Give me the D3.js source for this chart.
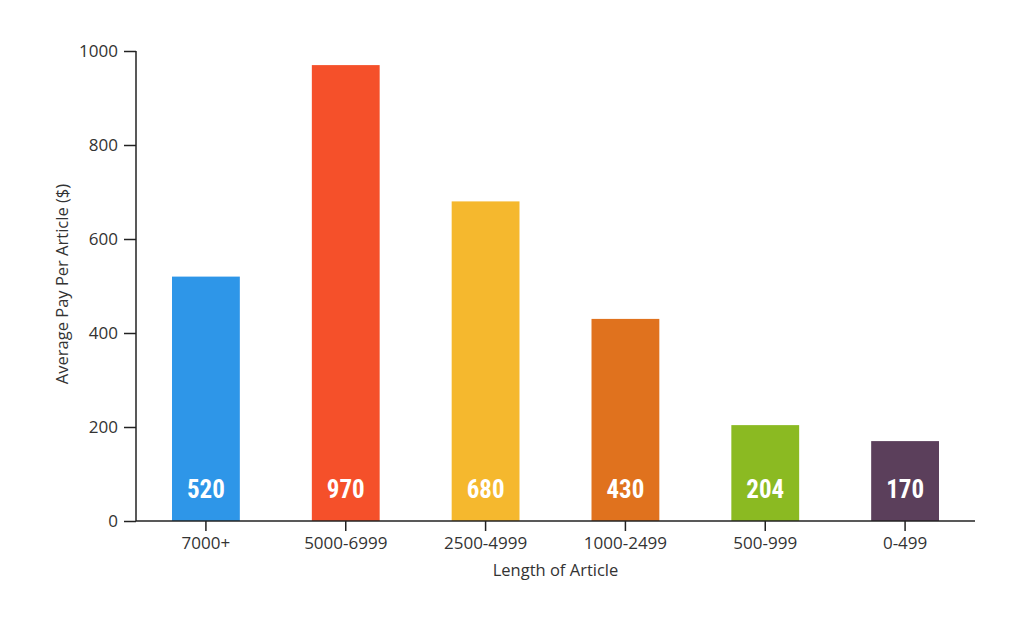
<!DOCTYPE html>
<html>
<head>
<meta charset="utf-8">
<script src="https://cdn.jsdelivr.net/npm/d3@7"></script>
<style>
  body { margin: 0; background: #fff; }
  .axis path, .axis line { stroke: #222; stroke-width: 1.5; }
  .val { font-stretch: condensed; }
</style>
</head>
<body>
<div id="chart"></div>
<script>
// Chart data
const categories = ["7000+", "5000-6999", "2500-4999", "1000-2499", "500-999", "0-499"];
const values = [520, 970, 680, 430, 204, 170];
const colors = ["#2E96E8", "#F5502A", "#F5B82E", "#E0721E", "#8BBA22", "#5B3F5B"];
const yTicks = [0, 200, 400, 600, 800, 1000];

const width = 1024;
const height = 627;
const margin = { top: 51, right: 49, bottom: 106, left: 136 };
const innerW = width - margin.left - margin.right;
const innerH = height - margin.top - margin.bottom;

const svg = d3.select("#chart")
  .append("svg")
  .attr("width", width)
  .attr("height", height);

const g = svg.append("g").attr("transform", `translate(${margin.left},${margin.top})`);

const x = d3.scaleBand()
  .domain(categories)
  .range([0, innerW])
  .paddingInner(0.515)
  .paddingOuter(0.2575);

const y = d3.scaleLinear()
  .domain([0, 1000])
  .range([innerH, 0]);

// Bars
g.selectAll(".bar")
  .data(categories)
  .join("rect")
  .attr("class", "bar")
  .attr("x", d => x(d))
  .attr("y", (d, i) => y(values[i]))
  .attr("width", x.bandwidth())
  .attr("height", (d, i) => innerH - y(values[i]))
  .attr("fill", (d, i) => colors[i]);

// Value labels inside bars
g.selectAll(".val")
  .data(categories)
  .join("text")
  .attr("class", "val")
  .attr("x", d => x(d) + x.bandwidth() / 2)
  .attr("y", y(0) - 23)
  .attr("text-anchor", "middle")
  .attr("fill", "#fff")
  .style("font-family", "'Roboto Condensed', 'DejaVu Sans', sans-serif")
  .style("font-weight", "bold")
  .style("font-size", "25px")
  .text((d, i) => values[i]);

// Axes
const xAxis = g.append("g")
  .attr("class", "axis")
  .attr("transform", `translate(0,${innerH})`)
  .call(d3.axisBottom(x).tickSizeOuter(0).tickSize(10).tickPadding(6))
  .call(a => a.select(".domain").attr("d", `M0,0H${innerW}`));

const yAxis = g.append("g")
  .attr("class", "axis")
  .call(d3.axisLeft(y).tickValues(yTicks).tickFormat(d3.format("d")).tickSize(12).tickSizeOuter(0).tickPadding(6))
  .call(a => a.select(".domain").attr("d", `M0,${innerH}V0`));

[xAxis, yAxis].forEach(a => a.selectAll("text")
  .style("font-family", "'Open Sans', sans-serif")
  .style("font-size", "17px")
  .attr("fill", "#333"));

// Axis titles
svg.append("text")
  .attr("x", margin.left + innerW / 2)
  .attr("y", 576)
  .attr("text-anchor", "middle")
  .style("font-family", "'Open Sans', sans-serif")
  .style("font-size", "16.5px")
  .attr("fill", "#333")
  .text("Length of Article");

svg.append("text")
  .attr("transform", `translate(68,${margin.top + innerH / 2 - 2}) rotate(-90)`)
  .attr("text-anchor", "middle")
  .style("font-family", "'Open Sans', sans-serif")
  .style("font-size", "16.5px")
  .attr("fill", "#333")
  .text("Average Pay Per Article ($)");
</script>
</body>
</html>
